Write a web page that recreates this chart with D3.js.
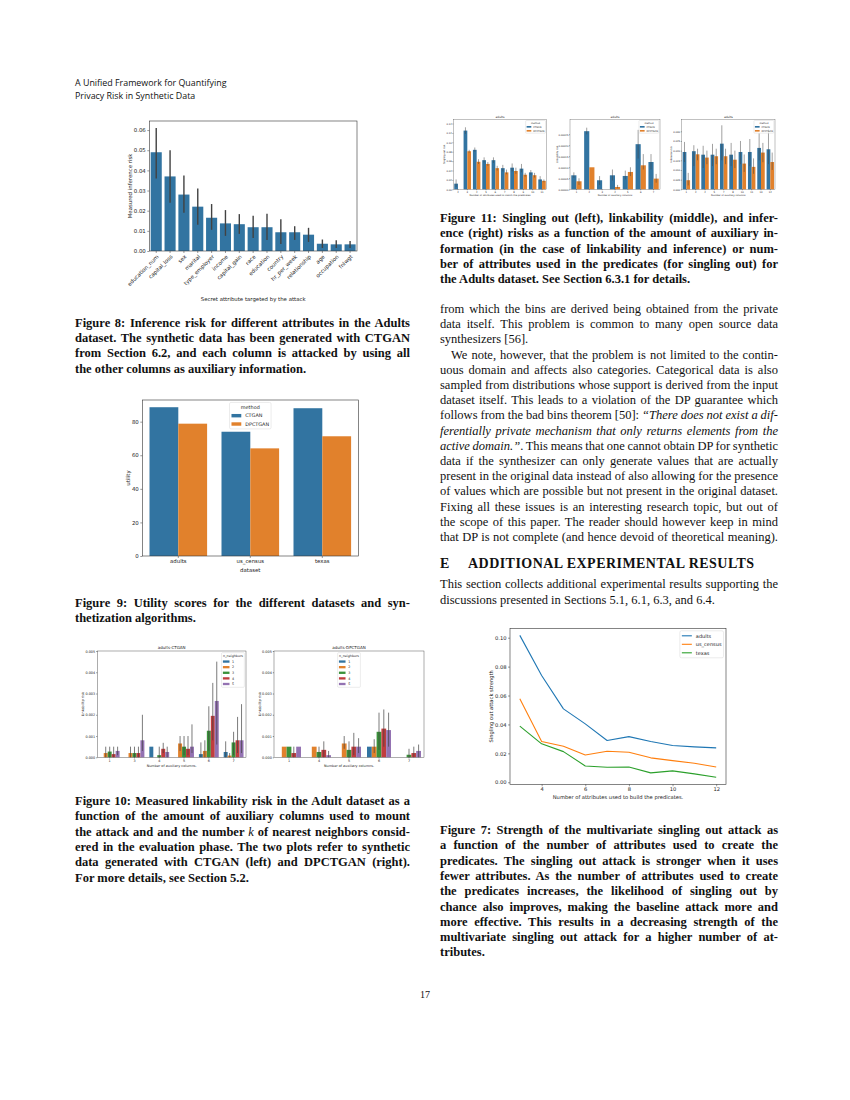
<!DOCTYPE html>
<html>
<head>
<meta charset="utf-8">
<script src="https://cdn.jsdelivr.net/npm/d3@7"></script>
<style>
 body { margin: 0; background: #fff; }
 svg { display: block; background: #fff; }
</style>
</head>
<body>
<script>
// ---------- Figure 8 : inference risk per secret attribute
const infAttrs = ["education_num", "capital_loss", "sex", "marital", "type_employer", "income", "capital_gain", "race", "education", "country", "hr_per_week", "relationship", "age", "occupation", "fnlwgt"];
const infRisk = [0.049, 0.037, 0.028, 0.022, 0.0165, 0.0137, 0.0133, 0.0118, 0.0118, 0.0093, 0.0093, 0.0081, 0.0036, 0.0033, 0.0033];
const infLo = [0.036, 0.024, 0.019, 0.013, 0.0105, 0.0075, 0.0085, 0.0065, 0.0055, 0.0035, 0.0055, 0.0045, 0.0015, 0.0015, 0.0015];
const infHi = [0.061, 0.050, 0.0375, 0.031, 0.0233, 0.0203, 0.0183, 0.0175, 0.0185, 0.0158, 0.0123, 0.0115, 0.0057, 0.0053, 0.0050];
const infTicks = [0, 0.01, 0.02, 0.03, 0.04, 0.05, 0.06];

// ---------- Figure 9 : utility
const utilSets = ["adults", "us_census", "texas"];
const methods = ["CTGAN", "DPCTGAN"];
const utilCTGAN = [88.6, 74.0, 88.0];
const utilDPCTGAN = [78.8, 64.1, 71.3];
const utilTicks = [0, 20, 40, 60, 80];

// ---------- Figure 10 : linkability vs auxiliary columns (rows = n_neighbors 1..5)
const neighbors = ["1", "2", "3", "4", "5"];
const linkTicks = [0, 0.001, 0.002, 0.003, 0.004, 0.005];
const linkColsCT = ["1", "3", "4", "5", "6", "7"];
const linkCT = [
  [0, 0, 0.0005, 0, 0.00015, 0.00025],
  [0.0002, 0.0002, 0, 0.00065, 0.0003, 0.00008],
  [0.00027, 0.0002, 0.0001, 0.0005, 0.00125, 0.0007],
  [0.00015, 0.0002, 0.0004, 0.0004, 0.00195, 0.0008],
  [0.0003, 0.0008, 0.00025, 0.0005, 0.00265, 0.0008]
];
const linkCTLo = [
  [0, 0, 0.0005, 0, 0, 0],
  [0, 0, 0, 0.0003, 0, 0],
  [0, 0, 0, 0.0001, 0.0003, 0.0001],
  [0, 0, 0.0002, 0.0001, 0.0008, 0.0002],
  [0.0001, 0.0003, 0, 0.0002, 0.0006, 0.0002]
];
const linkCTHi = [
  [0, 0, 0.0005, 0, 0.0007, 0.00075],
  [0.0005, 0.0005, 0, 0.001, 0.0008, 0.0002],
  [0.0005, 0.0005, 0.0005, 0.001, 0.0024, 0.0012],
  [0.0005, 0.0005, 0.00068, 0.001, 0.0035, 0.0019],
  [0.0005, 0.002, 0.0005, 0.00155, 0.0045, 0.0025]
];
const linkColsDP = ["1", "4", "5", "6", "7"];
const linkDP = [
  [0, 0, 0, 0.0005, 0],
  [0.0005, 0.0005, 0.00065, 0.0005, 0],
  [0.0005, 0.00025, 0.00035, 0.0012, 0.00012],
  [0.0002, 0.00035, 0.0005, 0.00135, 0.0002],
  [0.0005, 0.0001, 0.0005, 0.00128, 0.0003]
];
const linkDPLo = [
  [0, 0, 0, 0.0005, 0],
  [0.0005, 0.0005, 0.0004, 0.0002, 0],
  [0.0005, 0, 0, 0.00035, 0],
  [0, 0, 0.0001, 0.0005, 0],
  [0.0005, 0, 0.0002, 0.0005, 0]
];
const linkDPHi = [
  [0, 0, 0, 0.0005, 0],
  [0.0005, 0.0005, 0.001, 0.00085, 0],
  [0.0005, 0.0005, 0.00075, 0.0021, 0.0004],
  [0.0005, 0.00075, 0.00115, 0.00225, 0.0005],
  [0.0005, 0.0003, 0.0009, 0.0021, 0.0006]
];

// ---------- Figure 11 : singling out / linkability / inference (CTGAN vs DPCTGAN)
const soAttrs = ["2", "3", "4", "5", "6", "7", "8", "9", "10", "11"];
const soCT = [0.012, 0.125, 0.084, 0.062, 0.062, 0.045, 0.046, 0.044, 0.036, 0.021];
const soCTLo = [0.005, 0.118, 0.080, 0.057, 0.056, 0.038, 0.038, 0.036, 0.031, 0.017];
const soCTHi = [0.021, 0.132, 0.089, 0.068, 0.068, 0.052, 0.055, 0.054, 0.041, 0.028];
const soDP = [0, 0.081, 0.0586, 0.054, 0.045, 0.036, 0.039, 0.031, 0.030, 0.018];
const soDPLo = [0, 0.078, 0.054, 0.050, 0.040, 0.032, 0.033, 0.027, 0.025, 0.015];
const soDPHi = [0, 0.084, 0.064, 0.058, 0.050, 0.042, 0.046, 0.035, 0.035, 0.021];
const soTicks = [0, 0.02, 0.04, 0.06, 0.08, 0.10, 0.12, 0.14];

const lkCols = ["1", "2", "3", "4", "5", "6", "7"];
const lkCT = [0.0000636, 0.000264, 0.000041, 0.0000636, 0.0000606, 0.000205, 0.000124];
const lkCTLo = [0.000052, 0.00025, 0.00002, 0.00004, 0.000045, 0.00014, 0.00009];
const lkCTHi = [0.000077, 0.00028, 0.00006, 0.00009, 0.000085, 0.00027, 0.00016];
const lkDP = [0.0000364, 0.0001, 0, 0.0000106, 0.0000788, 0.000109, 0.0000485];
const lkDPLo = [0.00002, 0.0001, 0, 0.000005, 0.00006, 0.00009, 0.00003];
const lkDPHi = [0.00005, 0.0001, 0, 0.00002, 0.0001, 0.00016, 0.00007];
const lkTicks = [0, 0.00005, 0.0001, 0.00015, 0.0002, 0.00025];

const ifCols = ["1", "2", "4", "5", "7", "8", "10", "11", "13", "14"];
const ifCT = [0.0193, 0.0197, 0.0179, 0.0179, 0.0236, 0.0179, 0.0193, 0.0193, 0.0214, 0.0207];
const ifCTLo = [0.0141, 0.012, 0.011, 0.012, 0.015, 0.012, 0.013, 0.012, 0.015, 0.013];
const ifCTHi = [0.0245, 0.0228, 0.0225, 0.0235, 0.0331, 0.024, 0.025, 0.026, 0.029, 0.031];
const ifDP = [0.0047, 0.0181, 0.0164, 0.0171, 0.0171, 0.0153, 0.0133, 0.0116, 0.019, 0.0141];
const ifDPLo = [0.002, 0.015, 0.013, 0.013, 0.013, 0.011, 0.009, 0.008, 0.014, 0.010];
const ifDPHi = [0.0085, 0.021, 0.020, 0.021, 0.021, 0.020, 0.018, 0.016, 0.024, 0.019];
const ifTicks = [0, 0.005, 0.01, 0.015, 0.02, 0.025, 0.03];

// ---------- Figure 7 : multivariate singling out strength
const soNum = [3, 4, 5, 6, 7, 8, 9, 10, 11, 12];
const soAdults = [0.1016, 0.0739, 0.0508, 0.0404, 0.0289, 0.0316, 0.0282, 0.0254, 0.0245, 0.0238];
const soCensus = [0.0577, 0.0282, 0.0249, 0.0189, 0.0215, 0.0208, 0.0169, 0.0150, 0.0132, 0.0106];
const soTexas = [0.0388, 0.0266, 0.0212, 0.0113, 0.0104, 0.0106, 0.0065, 0.0079, 0.0058, 0.0035];
const soDatasets = ["adults", "us_census", "texas"];
const soXTicks = [4, 6, 8, 10, 12];
const soYTicks = [0, 0.02, 0.04, 0.06, 0.08, 0.10];

// ---------- page text
const header = ["A Unified Framework for Quantifying", "Privacy Risk in Synthetic Data"];
const cap8 = [
  "Figure 8: Inference risk for different attributes in the Adults",
  "dataset. The synthetic data has been generated with CTGAN",
  "from Section 6.2, and each column is attacked by using all",
  "the other columns as auxiliary information."
];
const cap9 = [
  "Figure 9: Utility scores for the different datasets and syn-",
  "thetization algorithms."
];
const cap10 = [
  "Figure 10: Measured linkability risk in the Adult dataset as a",
  "function of the amount of auxiliary columns used to mount",
  "the attack and and the number _k_ of nearest neighbors consid-",
  "ered in the evaluation phase. The two plots refer to synthetic",
  "data generated with CTGAN (left) and DPCTGAN (right).",
  "For more details, see Section 5.2."
];
const cap11 = [
  "Figure 11: Singling out (left), linkability (middle), and infer-",
  "ence (right) risks as a function of the amount of auxiliary in-",
  "formation (in the case of linkability and inference) or num-",
  "ber of attributes used in the predicates (for singling out) for",
  "the Adults dataset. See Section 6.3.1 for details."
];
const para1 = [
  "from which the bins are derived being obtained from the private",
  "data itself. This problem is common to many open source data",
  "synthesizers [56]."
];
const para2 = [
  "We note, however, that the problem is not limited to the contin-",
  "uous domain and affects also categories. Categorical data is also",
  "sampled from distributions whose support is derived from the input",
  "dataset itself. This leads to a violation of the DP guarantee which",
  "follows from the bad bins theorem [50]: _“There does not exist a dif-_",
  "_ferentially private mechanism that only returns elements from the_",
  "_active domain.”_. This means that one cannot obtain DP for synthetic",
  "data if the synthesizer can only generate values that are actually",
  "present in the original data instead of also allowing for the presence",
  "of values which are possible but not present in the original dataset.",
  "Fixing all these issues is an interesting research topic, but out of",
  "the scope of this paper. The reader should however keep in mind",
  "that DP is not complete (and hence devoid of theoretical meaning)."
];
const secE = [
  "This section collects additional experimental results supporting the",
  "discussions presented in Sections 5.1, 6.1, 6.3, and 6.4."
];
const cap7 = [
  "Figure 7: Strength of the multivariate singling out attack as",
  "a function of the number of attributes used to create the",
  "predicates. The singling out attack is stronger when it uses",
  "fewer attributes. As the number of attributes used to create",
  "the predicates increases, the likelihood of singling out by",
  "chance also improves, making the baseline attack more and",
  "more effective. This results in a decreasing strength of the",
  "multivariate singling out attack for a higher number of at-",
  "tributes."
];

const SANS = "DejaVu Sans";
const SERIF = "Liberation Serif";
const blue = "#3274a1", orange = "#e1812c", green = "#3a923a", red = "#c03d3e", purple = "#9372b2";
const hueColors = [blue, orange, green, red, purple];
const ERR = "#424242";

const svg = d3.select("body").append("svg").attr("width", 850).attr("height", 1100);

// ---------- helpers
function styleAxis(a, fs) {
  a.select(".domain").remove();
  a.attr("font-family", SANS).attr("font-size", fs);
  a.selectAll(".tick line").attr("stroke", "#333").attr("stroke-width", 0.5);
  a.selectAll(".tick text").attr("fill", "#222");
}

function legend(g, o) {
  const F = o.fs;
  const lg = g.append("g").attr("font-family", SANS).attr("font-size", F).attr("fill", "#222");
  const box = lg.append("rect");
  const rowH = 1.2 * F, gap = 0.5 * F, pad = 0.4 * F, hl = 2 * F, tp = 0.8 * F;
  let cy = pad;
  let tTitle = null;
  if (o.title) {
    tTitle = lg.append("text").attr("y", cy + rowH / 2).attr("dy", "0.35em").attr("text-anchor", "middle").text(o.title);
    cy += rowH + gap;
  }
  const texts = [];
  o.items.forEach(it => {
    const my = cy + rowH / 2;
    if (o.line) {
      lg.append("line").attr("x1", pad).attr("x2", pad + hl).attr("y1", my).attr("y2", my)
        .attr("stroke", it.color).attr("stroke-width", o.lw || 1);
    } else {
      lg.append("rect").attr("x", pad).attr("y", my - 0.35 * F).attr("width", hl).attr("height", 0.7 * F).attr("fill", it.color);
    }
    texts.push(lg.append("text").attr("x", pad + hl + tp).attr("y", my).attr("dy", "0.35em").text(it.label));
    cy += rowH + gap;
  });
  const h = cy - gap + pad;
  const tw = d3.max(texts, t => t.node().getComputedTextLength());
  const titleW = tTitle ? tTitle.node().getComputedTextLength() : 0;
  const w = Math.max(hl + tp + tw, titleW) + 2 * pad;
  if (tTitle) tTitle.attr("x", w / 2);
  box.attr("width", w).attr("height", h).attr("rx", 0.3 * F)
    .attr("fill", "#fff").attr("fill-opacity", 0.8).attr("stroke", "#d0d0d0").attr("stroke-width", 0.4);
  const lx = o.loc === "center" ? (o.x0 + o.x1) / 2 - w / 2 : o.x1 - 0.5 * F - w;
  lg.attr("transform", `translate(${lx},${o.y0 + 0.5 * F})`);
}

function axisLabels(g, c, ya, xa) {
  const yb = ya.node().getBBox();
  const lx = c.x0 + yb.x - c.fs * 0.4;
  g.append("text").attr("transform", `translate(${lx},${(c.y0 + c.y1) / 2}) rotate(-90)`)
    .attr("text-anchor", "middle").attr("font-size", c.fs).attr("fill", "#222").text(c.yLabel);
  const xb = xa.node().getBBox();
  const ly = c.xLabelY || (c.y1 + xb.y + xb.height + c.fs * 0.4 + c.fs * 0.8);
  g.append("text").attr("x", (c.x0 + c.x1) / 2).attr("y", ly)
    .attr("text-anchor", "middle").attr("font-size", c.fs).attr("fill", "#222").text(c.xLabel);
  if (c.title) {
    g.append("text").attr("x", (c.x0 + c.x1) / 2).attr("y", c.y0 - c.titleFs * 0.45)
      .attr("text-anchor", "middle").attr("font-size", c.titleFs).attr("fill", "#222").text(c.title);
  }
}

function barPanel(c) {
  const g = svg.append("g").attr("font-family", SANS);
  const x = d3.scaleBand().domain(c.cats).range([c.x0, c.x1]).paddingInner(0.2).paddingOuter(0.1);
  const hue = d3.scaleBand().domain(c.series.map(s => s.name)).range([0, x.bandwidth()]);
  const y = d3.scaleLinear().domain(c.yDomain).range([c.y1, c.y0]);

  c.series.forEach(s => {
    const rows = c.cats.map((cat, i) => ({
      cat, v: s.vals[i], lo: s.lo ? s.lo[i] : null, hi: s.hi ? s.hi[i] : null
    }));
    g.append("g").selectAll("rect").data(rows.filter(r => r.v > 0)).join("rect")
      .attr("x", r => x(r.cat) + hue(s.name))
      .attr("width", hue.bandwidth())
      .attr("y", r => y(r.v))
      .attr("height", r => y(0) - y(r.v))
      .attr("fill", s.color);
    g.append("g").selectAll("line").data(rows.filter(r => r.hi != null && r.hi > r.lo)).join("line")
      .attr("x1", r => x(r.cat) + hue(s.name) + hue.bandwidth() / 2)
      .attr("x2", r => x(r.cat) + hue(s.name) + hue.bandwidth() / 2)
      .attr("y1", r => y(r.lo))
      .attr("y2", r => y(r.hi))
      .attr("stroke", ERR).attr("stroke-width", c.errW);
  });

  const ya = g.append("g").attr("transform", `translate(${c.x0},0)`)
    .call(d3.axisLeft(y).tickValues(c.yTicks).tickFormat(d3.format(c.yFmt)).tickSize(c.tl).tickPadding(c.tp));
  styleAxis(ya, c.fs);
  const xa = g.append("g").attr("transform", `translate(0,${c.y1})`)
    .call(d3.axisBottom(x).tickSize(c.tl).tickPadding(c.tp));
  styleAxis(xa, c.fs);
  if (c.rotate) {
    xa.selectAll(".tick text")
      .attr("text-anchor", "end").attr("y", null).attr("dy", "0.35em")
      .attr("transform", `translate(1.5,${c.tl + c.tp + 1.2}) rotate(-45)`);
  }

  g.append("rect").attr("x", c.x0).attr("y", c.y0).attr("width", c.x1 - c.x0).attr("height", c.y1 - c.y0)
    .attr("fill", "none").attr("stroke", "#333").attr("stroke-width", c.frameW);

  axisLabels(g, c, ya, xa);
  if (c.legend) legend(g, Object.assign({ x0: c.x0, x1: c.x1, y0: c.y0 }, c.legend));
}

function textLines(arr, x, y0, w, o) {
  arr.forEach((ln, i) => {
    const indent = (i === 0 && o.indent) ? o.indent : 0;
    const t = svg.append("text").attr("x", x + indent).attr("y", y0 + i * o.lh)
      .attr("font-family", o.family || SERIF).attr("font-size", o.fs)
      .attr("font-weight", o.bold ? "bold" : "normal").attr("fill", "#111");
    ln.split("_").forEach((seg, j) => {
      const s = t.append("tspan").text(seg);
      if (j % 2) s.attr("font-style", "italic").attr("font-weight", "normal");
    });
    const last = i === arr.length - 1;
    if (o.justify && (!last || o.justifyLast)) {
      const nat = t.node().getComputedTextLength();
      const gaps = (ln.match(/ /g) || []).length;
      if (gaps) t.style("word-spacing", ((w - indent - nat) / gaps) + "px");
    }
  });
}

// ---------- Figure 8
barPanel({
  cats: infAttrs,
  series: [{ name: "risk", color: blue, vals: infRisk, lo: infLo, hi: infHi }],
  x0: 149.3, x1: 357, y0: 121, y1: 251,
  yDomain: [0, 0.0645], yTicks: infTicks, yFmt: ".2f",
  fs: 5.4, tl: 2, tp: 1.5, errW: 1.4, frameW: 0.6, rotate: true,
  yLabel: "Measured inference risk", xLabel: "Secret attribute targeted by the attack", xLabelY: 301
});

// ---------- Figure 9
barPanel({
  cats: utilSets,
  series: [
    { name: methods[0], color: blue, vals: utilCTGAN },
    { name: methods[1], color: orange, vals: utilDPCTGAN }
  ],
  x0: 142.3, x1: 358.3, y0: 400, y1: 556,
  yDomain: [0, 92.9], yTicks: utilTicks, yFmt: "d",
  fs: 5.4, tl: 2, tp: 1.5, errW: 1, frameW: 0.6,
  yLabel: "utility", xLabel: "dataset",
  legend: { loc: "center", fs: 4.9, title: "method", items: [{ label: methods[0], color: blue }, { label: methods[1], color: orange }] }
});

// ---------- Figure 10
const nbItems = neighbors.map((k, i) => ({ label: k, color: hueColors[i] }));
barPanel({
  cats: linkColsCT,
  series: neighbors.map((k, i) => ({ name: k, color: hueColors[i], vals: linkCT[i], lo: linkCTLo[i], hi: linkCTHi[i] })),
  x0: 97.3, x1: 246, y0: 651, y1: 757.3,
  yDomain: [0, 0.005], yTicks: linkTicks, yFmt: ".3f",
  fs: 3.4, titleFs: 4, tl: 1.2, tp: 1, errW: 0.7, frameW: 0.4,
  title: "adults-CTGAN", yLabel: "Linkability risk", xLabel: "Number of auxiliary columns.",
  legend: { loc: "right", fs: 3.3, title: "n_neighbors", items: nbItems }
});
barPanel({
  cats: linkColsDP,
  series: neighbors.map((k, i) => ({ name: k, color: hueColors[i], vals: linkDP[i], lo: linkDPLo[i], hi: linkDPHi[i] })),
  x0: 274, x1: 424, y0: 651, y1: 757.3,
  yDomain: [0, 0.005], yTicks: linkTicks, yFmt: ".3f",
  fs: 3.4, titleFs: 4, tl: 1.2, tp: 1, errW: 0.7, frameW: 0.4,
  title: "adults-DPCTGAN", yLabel: "Linkability risk", xLabel: "Number of auxiliary columns.",
  legend: { loc: "center", fs: 3.3, title: "n_neighbors", items: nbItems }
});

// ---------- Figure 11
const methodItems = [{ label: methods[0], color: blue }, { label: methods[1], color: orange }];
const f11 = { y0: 119.3, y1: 189.3, fs: 2.4, titleFs: 2.9, tl: 0.9, tp: 0.7, errW: 0.5, frameW: 0.3 };
barPanel(Object.assign({}, f11, {
  cats: soAttrs,
  series: [
    { name: methods[0], color: blue, vals: soCT, lo: soCTLo, hi: soCTHi },
    { name: methods[1], color: orange, vals: soDP, lo: soDPLo, hi: soDPHi }
  ],
  x0: 453.3, x1: 546.7, yDomain: [0, 0.149], yTicks: soTicks, yFmt: ".2f",
  title: "adults", yLabel: "Singling out risk", xLabel: "Number of attributes used to match the predicates",
  legend: { loc: "right", fs: 2.35, title: "method", items: methodItems }
}));
barPanel(Object.assign({}, f11, {
  cats: lkCols,
  series: [
    { name: methods[0], color: blue, vals: lkCT, lo: lkCTLo, hi: lkCTHi },
    { name: methods[1], color: orange, vals: lkDP, lo: lkDPLo, hi: lkDPHi }
  ],
  x0: 570, x1: 660, yDomain: [0, 0.000318], yTicks: lkTicks, yFmt: ".5f",
  title: "adults", yLabel: "Linkability risk", xLabel: "Number of auxiliary columns",
  legend: { loc: "right", fs: 2.35, title: "method", items: methodItems }
}));
barPanel(Object.assign({}, f11, {
  cats: ifCols,
  series: [
    { name: methods[0], color: blue, vals: ifCT, lo: ifCTLo, hi: ifCTHi },
    { name: methods[1], color: orange, vals: ifDP, lo: ifDPLo, hi: ifDPHi }
  ],
  x0: 681.7, x1: 775, yDomain: [0, 0.0362], yTicks: ifTicks, yFmt: ".3f",
  title: "adults", yLabel: "Inference risk", xLabel: "Number of auxiliary columns",
  legend: { loc: "right", fs: 2.35, title: "method", items: methodItems }
}));

// ---------- Figure 7
(function () {
  const c = {
    x0: 510, x1: 726, y0: 628.3, y1: 784.3, fs: 5.2,
    yLabel: "Singling out attack strength", xLabel: "Number of attributes used to build the predicates."
  };
  const g = svg.append("g").attr("font-family", SANS);
  const x = d3.scaleLinear().domain([2.55, 12.45]).range([c.x0, c.x1]);
  const y = d3.scaleLinear().domain([-0.0014, 0.1065]).range([c.y1, c.y0]);
  const series = [soAdults, soCensus, soTexas];
  const colors = ["#1f77b4", "#ff7f0e", "#2ca02c"];
  const line = d3.line().x((d, i) => x(soNum[i])).y(d => y(d));
  series.forEach((s, k) => {
    g.append("path").datum(s).attr("d", line).attr("fill", "none")
      .attr("stroke", colors[k]).attr("stroke-width", 1.1).attr("stroke-linejoin", "round");
  });
  const ya = g.append("g").attr("transform", `translate(${c.x0},0)`)
    .call(d3.axisLeft(y).tickValues(soYTicks).tickFormat(d3.format(".2f")).tickSize(2).tickPadding(1.5));
  styleAxis(ya, c.fs);
  const xa = g.append("g").attr("transform", `translate(0,${c.y1})`)
    .call(d3.axisBottom(x).tickValues(soXTicks).tickFormat(d3.format("d")).tickSize(2).tickPadding(1.5));
  styleAxis(xa, c.fs);
  g.append("rect").attr("x", c.x0).attr("y", c.y0).attr("width", c.x1 - c.x0).attr("height", c.y1 - c.y0)
    .attr("fill", "none").attr("stroke", "#333").attr("stroke-width", 0.6);
  axisLabels(g, c, ya, xa);
  legend(g, { loc: "right", x0: c.x0, x1: c.x1, y0: c.y0, fs: 5, line: true, lw: 1.1,
    items: soDatasets.map((d, i) => ({ label: d, color: colors[i] })) });
})();

// ---------- text
textLines(header, 75, 85.5, 0, { fs: 8.9, lh: 13, family: "Open Sans" });
textLines(cap8, 75, 327, 335, { fs: 12.5, lh: 15.2, bold: true, justify: true });
textLines(cap9, 75, 607, 335, { fs: 12.5, lh: 15.2, bold: true, justify: true });
textLines(cap10, 75, 805, 335, { fs: 12.5, lh: 15.3, bold: true, justify: true });
textLines(cap11, 440, 222, 338, { fs: 12.5, lh: 15.3, bold: true, justify: true });
textLines(para1, 440, 313, 338, { fs: 12.5, lh: 15.2, justify: true });
textLines(para2, 440, 358.6, 338, { fs: 12.5, lh: 15.2, justify: true, justifyLast: true, indent: 11 });

const head = svg.append("text").attr("y", 568).attr("font-family", SERIF).attr("font-weight", "bold")
  .attr("font-size", 14).attr("fill", "#111");
head.append("tspan").attr("x", 440).text("E");
head.append("tspan").attr("x", 468).attr("textLength", 286).attr("lengthAdjust", "spacing").text("ADDITIONAL EXPERIMENTAL RESULTS");

textLines(secE, 440, 588, 338, { fs: 12.5, lh: 15.5, justify: true });
textLines(cap7, 440, 834, 338, { fs: 12.5, lh: 15.3, bold: true, justify: true });

svg.append("text").attr("x", 425).attr("y", 998).attr("text-anchor", "middle")
  .attr("font-family", SERIF).attr("font-size", 10).attr("fill", "#111").text("17");
</script>
</body>
</html>
